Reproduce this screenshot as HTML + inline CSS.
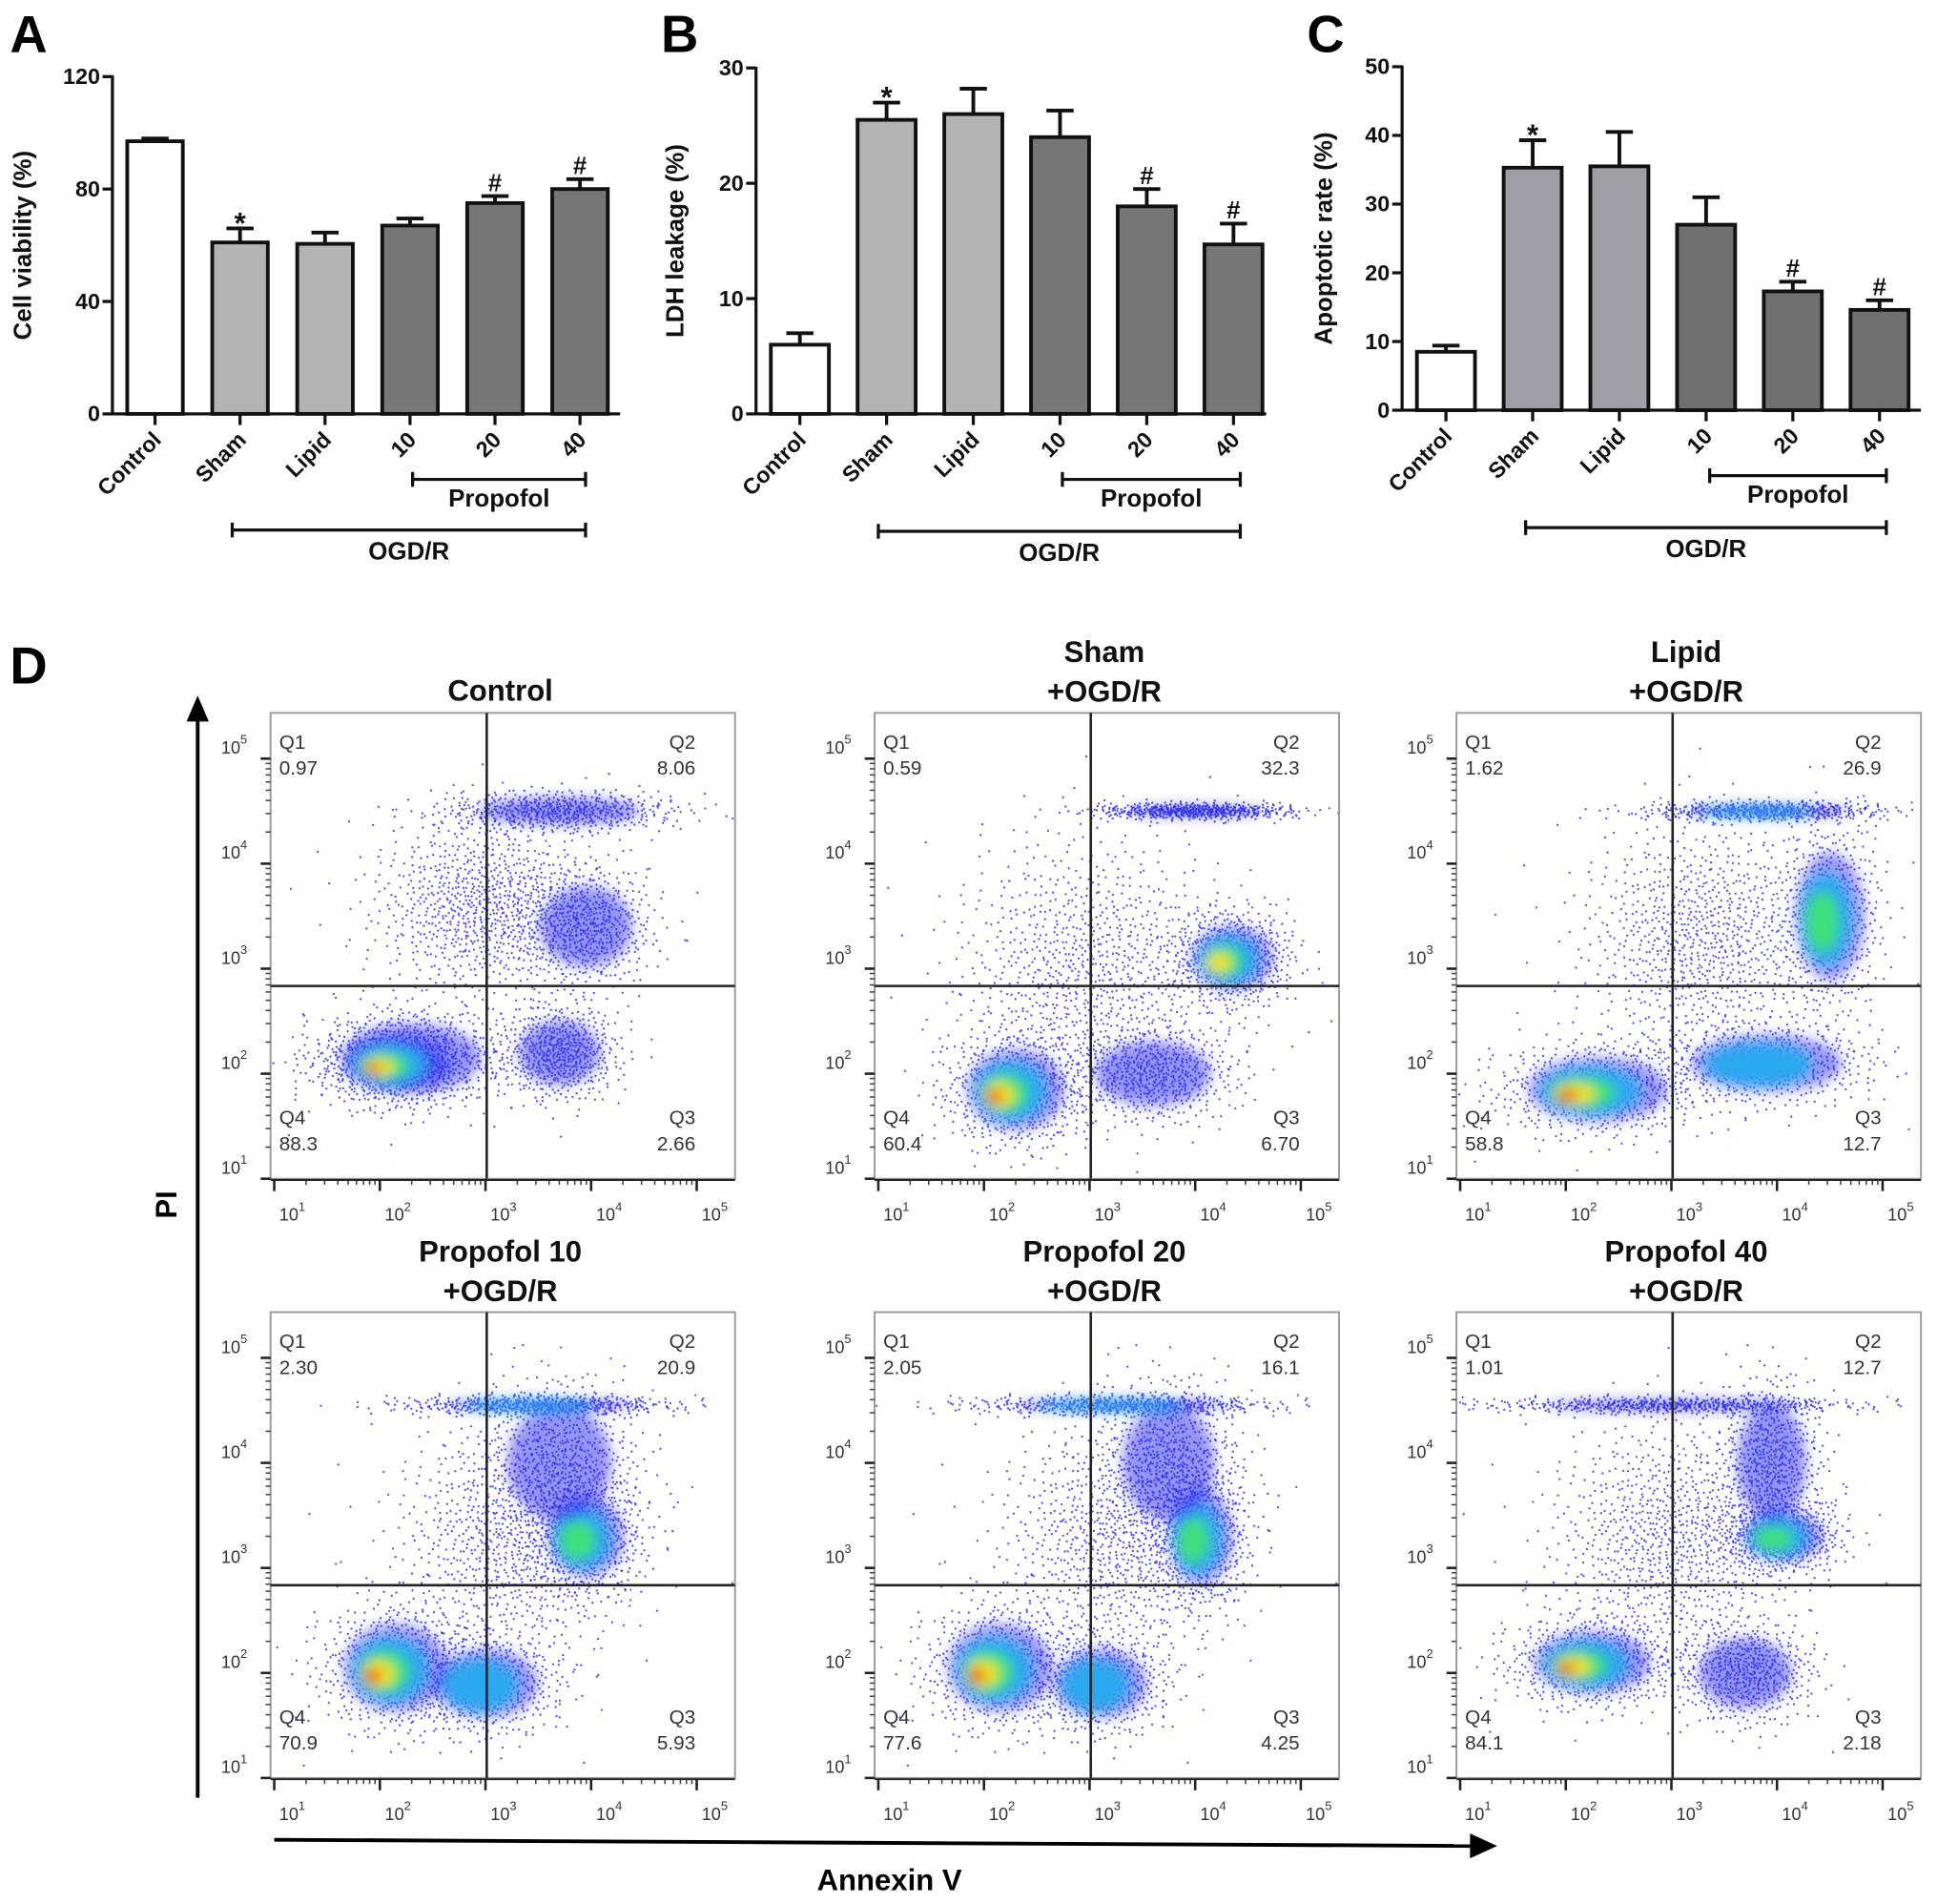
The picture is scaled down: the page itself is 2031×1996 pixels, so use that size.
<!DOCTYPE html>
<html><head><meta charset="utf-8"><style>
html,body{margin:0;padding:0;background:#fff;}
svg{display:block;}
text{font-family:"Liberation Sans",Arial,sans-serif;}
</style></head><body>
<svg id="fig" width="2031" height="1996" viewBox="0 0 1568 1541" xmlns="http://www.w3.org/2000/svg">
<defs>
<filter id="blur" x="-50%" y="-50%" width="200%" height="200%"><feGaussianBlur stdDeviation="5"/></filter>
</defs>
</svg>
<script>
const NS='http://www.w3.org/2000/svg';
const svg=document.getElementById('fig');
function el(tag,attrs,parent,txt){const e=document.createElementNS(NS,tag);for(const k in attrs)e.setAttribute(k,attrs[k]);if(txt!==undefined)e.textContent=txt;(parent||svg).appendChild(e);return e;}

// ---- bar chart data ----
const categories=['Control','Sham','Lipid','10','20','40'];
const viabilityValues=[97,61,60.5,67,75,80];
const viabilityErrors=[1,5,4,2.5,2.5,3.5];
const ldhValues=[6,25.5,26,24,18,14.7];
const ldhErrors=[1,1.5,2.2,2.3,1.5,1.8];
const apoptosisValues=[8.5,35.3,35.5,27,17.3,14.6];
const apoptosisErrors=[0.9,4,5,4,1.4,1.4];
const viabilityTicks=[0,40,80,120];
const ldhTicks=[0,10,20,30];
const apoptosisTicks=[0,10,20,30,40,50];
const viabilityMarks=['','*','','','#','#'];
const ldhMarks=['','*','','','#','#'];
const apoptosisMarks=['','*','','','#','#'];

function barChart(cfg){
  const g=el('g',{});
  
  
  const y=v=>cfg.y0-(v/cfg.max)*(cfg.y0-cfg.yTop);
  const bx=i=>cfg.x0+i*cfg.step;
  cfg.values.forEach((v,i)=>{
    const x=bx(i), top=y(v), eTop=y(v+cfg.errors[i]);
    const cx=x+cfg.bw/2;
    const ln=el('line',{x1:cx,y1:top,x2:cx,y2:eTop,stroke:'#111','stroke-width':3},g);
    
    
    el('line',{x1:cx-11,y1:eTop,x2:cx+11,y2:eTop,stroke:'#111','stroke-width':3},g);
    const r=el('rect',{x:x,y:top,width:cfg.bw,height:cfg.y0-top,fill:cfg.colors[i],stroke:'#111','stroke-width':3},g);
    
    
    if(cfg.marks[i]){
      const t=el('text',{x:cx,y:eTop-(cfg.marks[i]=='*'?-4:4),'text-anchor':'middle','font-size':cfg.marks[i]=='*'?24:20,'font-weight':'bold',fill:'#111'},g,cfg.marks[i]);
      
      
    }
    el('line',{x1:cx,y1:cfg.y0,x2:cx,y2:cfg.y0+9,stroke:'#111','stroke-width':2.5},g);
    const lab=el('text',{x:0,y:0,'text-anchor':'end','font-size':18,'font-weight':'bold',fill:'#111',transform:`translate(${cx+6},${cfg.y0+22}) rotate(-45)`},g,categories[i]);
    
    
  });
  el('line',{x1:cfg.ax,y1:cfg.yTop-1,x2:cfg.ax,y2:cfg.y0+1,stroke:'#111','stroke-width':2.5},g);
  el('line',{x1:cfg.ax-1,y1:cfg.y0,x2:cfg.axEnd,y2:cfg.y0,stroke:'#111','stroke-width':2.5},g);
  cfg.ticks.forEach(t=>{
    el('line',{x1:cfg.ax-8,y1:y(t),x2:cfg.ax,y2:y(t),stroke:'#111','stroke-width':2.5},g);
    const tl=el('text',{x:cfg.ax-10,y:y(t)+6,'text-anchor':'end','font-size':18,'font-weight':'bold',fill:'#111'},g,t);
    
    
  });
  const yt=el('text',{x:0,y:0,'text-anchor':'middle','font-size':20,'font-weight':'bold',fill:'#111',transform:`translate(${cfg.titleX},${(cfg.yTop+cfg.y0)/2}) rotate(-90)`},g,cfg.title);
  
  
  const br=(x1,x2,yy,label,ly,name)=>{
    const b=el('g',{},g);
    
    
    el('line',{x1:x1,y1:yy,x2:x2,y2:yy,stroke:'#111','stroke-width':2.5},b);
    el('line',{x1:x1,y1:yy-6,x2:x1,y2:yy+6,stroke:'#111','stroke-width':2.5},b);
    el('line',{x1:x2,y1:yy-6,x2:x2,y2:yy+6,stroke:'#111','stroke-width':2.5},b);
    el('text',{x:(x1+x2)/2,y:ly,'text-anchor':'middle','font-size':20,'font-weight':'bold',fill:'#111'},b,label);
  };
  br(cfg.pb[0],cfg.pb[1],cfg.pb[2],'Propofol',cfg.pb[2]+22,'propofol-bracket');
  br(cfg.ob[0],cfg.ob[1],cfg.ob[2],'OGD/R',cfg.ob[2]+24,'ogdr-bracket');
  const L=el('text',{x:cfg.letter[0],y:cfg.letter[1],'font-size':42,'font-weight':'bold',fill:'#000'},g,cfg.letterText);
  
  
}
barChart({name:'cell-viability-chart',values:viabilityValues,errors:viabilityErrors,ticks:viabilityTicks,marks:viabilityMarks,max:120,
  y0:335,yTop:62,x0:103,step:68.8,bw:45,ax:91,axEnd:502,title:'Cell viability (%)',titleX:25,
  colors:['#fff','#b3b3b3','#b3b3b3','#777','#777','#777'],pb:[334,474,388],ob:[188,474,429],letter:[8,42],letterText:'A'});
barChart({name:'ldh-leakage-chart',values:ldhValues,errors:ldhErrors,ticks:ldhTicks,marks:ldhMarks,max:30,
  y0:335,yTop:55,x0:624,step:70.2,bw:47,ax:612,axEnd:1025,title:'LDH leakage (%)',titleX:553,
  colors:['#fff','#b3b3b3','#b3b3b3','#777','#777','#777'],pb:[860,1004,388],ob:[711,1004,430],letter:[535,42],letterText:'B'});
barChart({name:'apoptotic-rate-chart',values:apoptosisValues,errors:apoptosisErrors,ticks:apoptosisTicks,marks:apoptosisMarks,max:50,
  y0:332,yTop:54,x0:1147,step:70.2,bw:47,ax:1135,axEnd:1555,title:'Apoptotic rate (%)',titleX:1078,
  colors:['#fff','#9e9ea6','#9e9ea6','#707070','#707070','#707070'],pb:[1384,1527,385],ob:[1235,1527,427],letter:[1058,42],letterText:'C'});

// ---- flow cytometry ----
const flowTitles=[['Control'],['Sham','+OGD/R'],['Lipid','+OGD/R'],['Propofol 10','+OGD/R'],['Propofol 20','+OGD/R'],['Propofol 40','+OGD/R']];
const flowQ1=['0.97','0.59','1.62','2.30','2.05','1.01'];
const flowQ2=['8.06','32.3','26.9','20.9','16.1','12.7'];
const flowQ3=['2.66','6.70','12.7','5.93','4.25','2.18'];
const flowQ4=['88.3','60.4','58.8','70.9','77.6','84.1'];
// clusters: [log annexin, log PI, spread x (decades), spread y, density level]
const flowClusters=[
 [[3.0,3.6,0.75,0.6,0],[2.3,2.15,0.6,0.3,1],[2.15,2.1,0.45,0.24,5],[3.95,3.4,0.4,0.35,1],[3.7,4.5,0.7,0.12,1],[3.7,2.2,0.35,0.28,1]],
 [[3.0,3.0,0.9,0.9,0],[2.3,1.85,0.42,0.35,5],[4.35,3.1,0.35,0.28,4],[3.6,2.0,0.5,0.28,1],[4.0,4.5,0.6,0.05,1]],
 [[3.3,3.3,0.8,0.8,0],[2.3,1.85,0.6,0.28,5],[3.9,2.1,0.65,0.25,2],[4.5,3.5,0.3,0.55,3],[3.9,4.5,0.7,0.06,2]],
 [[3.3,3.3,0.8,0.8,0],[2.15,2.05,0.45,0.38,5],[3.0,1.9,0.45,0.3,2],[3.95,3.3,0.33,0.35,3],[3.7,4.0,0.45,0.5,1],[3.5,4.55,0.8,0.06,2]],
 [[3.3,3.3,0.8,0.8,0],[2.15,2.05,0.45,0.38,5],[3.1,1.9,0.4,0.3,2],[4.05,3.3,0.28,0.42,3],[3.75,4.0,0.4,0.5,1],[3.3,4.55,0.9,0.06,2]],
 [[3.0,3.3,0.8,0.8,0],[2.25,2.1,0.5,0.27,5],[3.7,2.0,0.4,0.3,1],[4.05,3.3,0.35,0.22,3],[3.95,4.0,0.3,0.5,1],[3.0,4.55,1.1,0.05,1]]
];
const boxLefts=[219,708,1179,219,708,1179];
const boxTops=[577,577,577,1062,1062,1062];
const layerColors=['rgba(40,40,235,0.5)','#2aa8f0','#3ee07a','#f2e41e','#ee2a10'];
const layerScale=[1,0.7,0.48,0.3,0.16];

function halton(i,b){let f=1,r=0;while(i>0){f/=b;r+=f*(i%b);i=Math.floor(i/b);}return r;}

function flowPlot(i){
  const bx=boxLefts[i], by=boxTops[i], W=376, H=377;
  const g=el('g',{});
  
  
  const X=l=>bx+3+(l-1)*85.5;
  const Y=l=>by+H-(l-1)*85;
  const cid='clip'+i;
  const cp=el('clipPath',{id:cid},g); el('rect',{x:bx,y:by,width:W,height:H},cp);
  const cg=el('g',{'clip-path':`url(#${cid})`},g);
  const dg=el('g',{fill:'#2a2ae8','fill-opacity':0.8},cg);
  
  
  let idx=1;
  flowClusters[i].forEach(c=>{
    const [lx,ly,sx,sy,lev]=c;
    const n=lev===0?900:(lev>=4?700:600);
    for(let j=0;j<n;j++,idx++){
      const u=Math.max(halton(idx,2),1e-4), v=halton(idx,3);
      const r=Math.sqrt(-2*Math.log(u)), th=2*Math.PI*v;
      const k=lev===0?0.7:0.8;
      el('circle',{cx:(X(lx+r*Math.cos(th)*sx*k)).toFixed(1),cy:(Y(ly+r*Math.sin(th)*sy*k)).toFixed(1),r:0.9},dg);
    }
  });
  const fg=el('g',{filter:'url(#blur)'},cg);
  flowClusters[i].forEach(c=>{
    const [lx,ly,sx,sy,lev]=c;
    if(lev===0)return;
    for(let k=0;k<lev;k++){
      const e=el('ellipse',{cx:X(lx)-(k*sx*85*0.12),cy:Y(ly)+(k*sy*85*0.05),rx:sx*85*layerScale[k]*1.1,ry:sy*85*layerScale[k]*1.1,fill:layerColors[k]},fg);
      
      
    }
  });
  el('rect',{x:bx,y:by,width:W,height:H,fill:'none',stroke:'#999','stroke-width':1.5},g);
  el('line',{x1:bx+175,y1:by,x2:bx+175,y2:by+H,stroke:'#222','stroke-width':2},g);
  el('line',{x1:bx,y1:by+221,x2:bx+W,y2:by+221,stroke:'#222','stroke-width':2},g);
  for(let d=1;d<=5;d++){
    el('line',{x1:bx-8,y1:Y(d),x2:bx,y2:Y(d),stroke:'#222','stroke-width':2},g);
    const t=el('text',{x:bx-40,y:Y(d)-4,'font-size':14,fill:'#333'},g,'10');
    el('tspan',{dy:-8,'font-size':10},t,String(d));
    
    
    el('line',{x1:X(d),y1:by+H+1,x2:X(d),y2:by+H+10,stroke:'#222','stroke-width':2},g);
    const tx=el('text',{x:X(d)+4,y:by+H+34,'font-size':14,fill:'#333'},g,'10');
    el('tspan',{dy:-8,'font-size':10},tx,String(d));
    
    
    if(d<5)for(let m=2;m<=9;m++){
      const lm=d+Math.log10(m);
      el('line',{x1:bx-4,y1:Y(lm),x2:bx,y2:Y(lm),stroke:'#444','stroke-width':1.2},g);
      el('line',{x1:X(lm),y1:by+H+1,x2:X(lm),y2:by+H+5,stroke:'#444','stroke-width':1.2},g);
    }
  }
  el('line',{x1:bx,y1:by+H+1,x2:bx+W,y2:by+H+1,stroke:'#222','stroke-width':1.5},g);
  const lab=(x,y,a,s)=>{const t=el('text',{x:x,y:y,'text-anchor':a,'font-size':16,fill:'#333'},g,s);};
  lab(bx+7,by+29,'start','Q1');lab(bx+7,by+50,'start',flowQ1[i]);
  lab(bx+W-32,by+29,'end','Q2');lab(bx+W-32,by+50,'end',flowQ2[i]);
  lab(bx+W-32,by+333,'end','Q3');lab(bx+W-32,by+354,'end',flowQ3[i]);
  lab(bx+7,by+333,'start','Q4');lab(bx+7,by+354,'start',flowQ4[i]);
  const tl=flowTitles[i];
  tl.forEach((s,k)=>{
    const t=el('text',{x:bx+186,y:by-(tl.length===1?10:41-32*k),'text-anchor':'middle','font-size':24,'font-weight':'bold',fill:'#111'},g,s);
    
    
  });
}
for(let i=0;i<6;i++)flowPlot(i);

const ag=el('g',{});


el('line',{x1:160,y1:1455,x2:160,y2:580,stroke:'#000','stroke-width':3},ag);
el('polygon',{points:'160,563 151,584 169,584',fill:'#000'},ag);
el('line',{x1:222,y1:1489,x2:1192,y2:1494,stroke:'#000','stroke-width':3},ag);
el('polygon',{points:'1212,1494 1190,1484 1190,1504',fill:'#000'},ag);
const pi=el('text',{x:0,y:0,'text-anchor':'middle','font-size':24,'font-weight':'bold',transform:'translate(143,975) rotate(-90)'},ag,'PI');


const an=el('text',{x:720,y:1530,'text-anchor':'middle','font-size':24,'font-weight':'bold'},ag,'Annexin V');


const D=el('text',{x:8,y:553,'font-size':42,'font-weight':'bold'},ag,'D');


</script>
</body></html>
